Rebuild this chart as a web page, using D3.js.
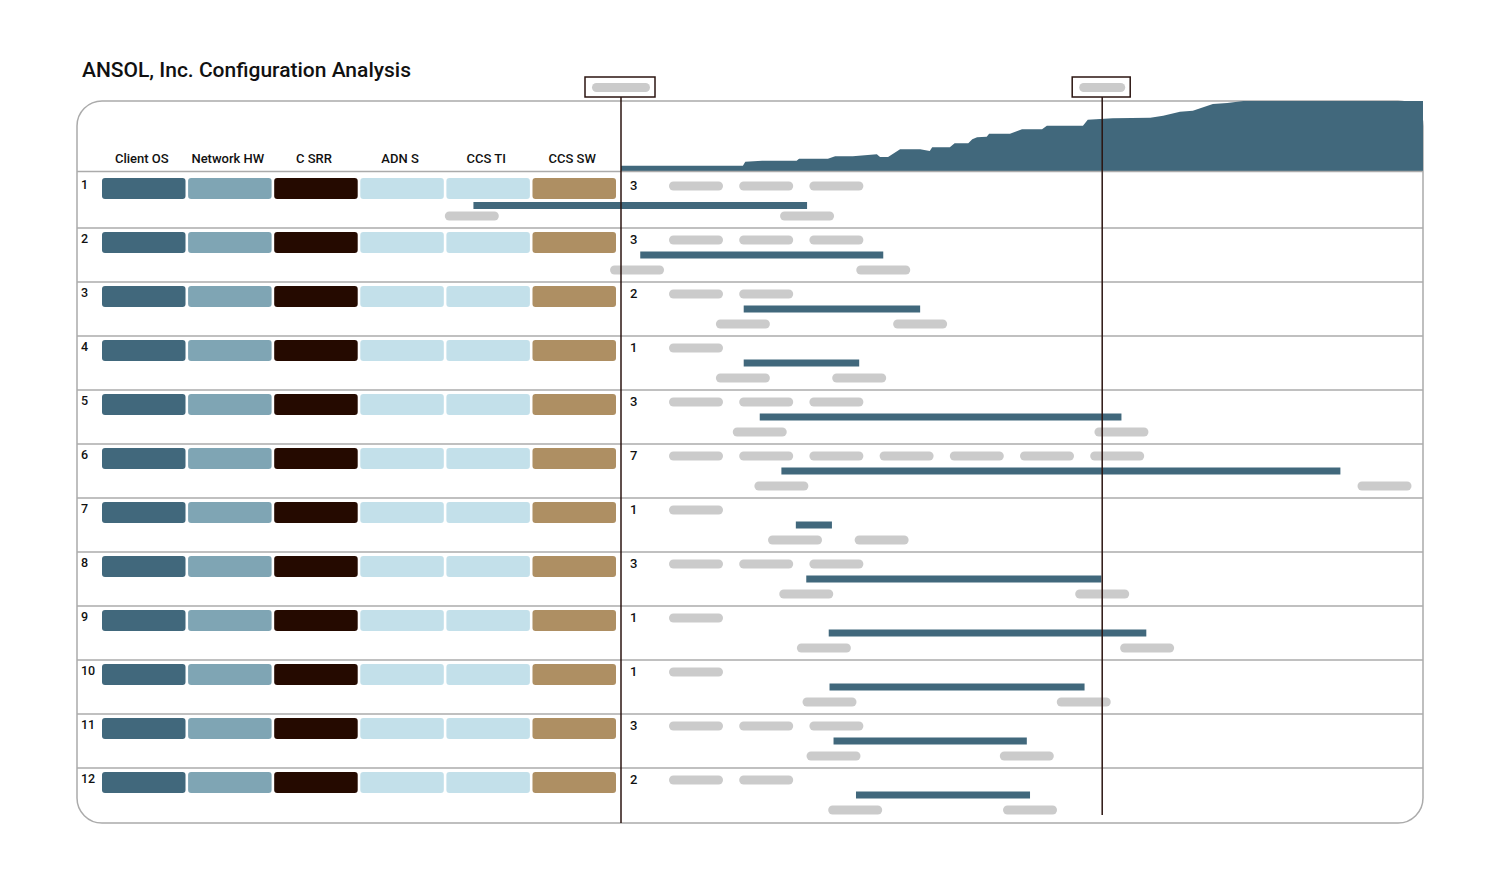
<!DOCTYPE html>
<html>
<head>
<meta charset="utf-8">
<script src="https://cdn.jsdelivr.net/npm/d3@7"></script>
<style>
    body { margin: 0; background: #fff; }
    text { font-family: Roboto, "Noto Sans", sans-serif; fill: #111; }
</style>
</head>
<body>
<div id="chart-area"></div>
<script>

// component columns of the configuration table
var columns = ["Client OS", "Network HW", "C SRR", "ADN S", "CCS TI", "CCS SW"]
var rowLabels = ["1", "2", "3", "4", "5", "6", "7", "8", "9", "10", "11", "12"]

// number of items listed on each row
var itemCounts = [3, 3, 2, 1, 3, 7, 1, 3, 1, 1, 3, 2]

// timeline span of each row (0 = first marker)
var spanStart = [-18.4, 2.4, 15.3, 15.3, 17.3, 20.0, 21.8, 23.1, 25.9, 26.0, 26.5, 29.3]
var spanEnd = [23.2, 32.7, 37.3, 29.7, 62.4, 89.7, 26.3, 59.9, 65.5, 57.8, 50.6, 51.0]
var startLabelAt = [-18.6, 2.0, 15.2, 15.2, 17.3, 20.0, 21.7, 23.1, 25.3, 26.0, 26.5, 29.2]
var endLabelAt = [23.2, 32.7, 37.3, 29.7, 62.4, 95.2, 32.5, 60.0, 65.6, 57.7, 50.6, 51.0]

// vertical reference markers
var markers = [0, 60]

// cumulative coverage curve on top of the timeline
var coverageX = [0, 15.2, 15.5, 17.6, 21.9, 22.2, 25.8, 26.7, 28.9, 31.9, 32.3, 33.3, 34.8, 37.3,
    38.5, 38.8, 41.0, 41.6, 43.3, 43.8, 44.4, 45.6, 45.9, 48.5, 50.0, 52.5, 53.1, 57.6, 58.2,
    61.3, 66.0, 67.6, 69.7, 71.3, 73.8, 75.6, 77.6, 100]
var coverageY = [7.6, 7.6, 13.3, 14.7, 14.7, 17.6, 17.6, 21.0, 21.0, 23.9, 20.0, 20.0, 31.0, 31.0,
    28.6, 33.9, 33.9, 39.6, 39.6, 45.3, 48.1, 49.0, 53.3, 53.3, 59.6, 59.6, 64.7, 64.7, 73.1,
    75.3, 76.1, 79.0, 84.7, 86.1, 95.7, 97.1, 100, 100]

var columnColors = ["#41687c", "#7fa5b4", "#250a00", "#c3e0ea", "#c3e0ea", "#ae8f63"]
var markerLabelWidths = [58, 46]

var width = 1500, height = 874
var frame = { x0: 77, x1: 1423, y0: 101, y1: 823 }
var teal = "#41687c", pill = "#cbcbcb", dark = "#2b1410", rule = "#ababab"

var svg = d3.select("#chart-area").append("svg")
    .attr("width", width)
    .attr("height", height)

var x = d3.scaleLinear().domain([0, 100]).range([621, 1423])
var yArea = d3.scaleLinear().domain([0, 100]).range([171, 101])
var yRow = d3.scaleBand().domain(rowLabels).range([174, 822])
var xCol = d3.scaleBand().domain(columns).range([102, 616]).paddingInner(0.03)

// title
svg.append("text")
    .attr("x", 82)
    .attr("y", 77)
    .style("font-size", "21px")
    .style("font-weight", 500)
    .text("ANSOL, Inc. Configuration Analysis")

// frame
svg.append("rect")
    .attr("x", frame.x0)
    .attr("y", frame.y0)
    .attr("width", frame.x1 - frame.x0)
    .attr("height", frame.y1 - frame.y0)
    .attr("rx", 25)
    .attr("fill", "none")
    .attr("stroke", rule)
    .attr("stroke-width", 1.5)

// coverage area
var area = d3.area()
    .x(function(d) { return x(d[0]) })
    .y0(yArea(0))
    .y1(function(d) { return yArea(d[1]) })

svg.append("path")
    .datum(coverageX.map(function(v, i) { return [v, coverageY[i]] }))
    .attr("d", area)
    .attr("fill", teal)

// header line + row separators
svg.append("line")
    .attr("x1", frame.x0).attr("x2", frame.x1)
    .attr("y1", 171.5).attr("y2", 171.5)
    .attr("stroke", rule).attr("stroke-width", 1.5)

svg.append("g")
    .selectAll("line")
    .data(rowLabels.slice(0, -1))
    .enter().append("line")
    .attr("x1", frame.x0).attr("x2", frame.x1)
    .attr("y1", function(d) { return yRow(d) + yRow.bandwidth() })
    .attr("y2", function(d) { return yRow(d) + yRow.bandwidth() })
    .attr("stroke", rule)
    .attr("stroke-width", 1.5)

// column headers
svg.append("g")
    .selectAll("text")
    .data(columns)
    .enter().append("text")
    .attr("x", function(d) { return xCol(d) + xCol.bandwidth() / 2 - 2 })
    .attr("y", 163)
    .attr("text-anchor", "middle")
    .style("font-size", "13px")
    .style("font-weight", 500)
    .text(function(d) { return d })

var rows = svg.append("g")
    .selectAll("g")
    .data(rowLabels)
    .enter().append("g")
    .attr("transform", function(d) { return "translate(0," + yRow(d) + ")" })

rows.append("text")
    .attr("x", 81)
    .attr("y", 15)
    .style("font-size", "12.5px")
    .style("font-weight", 500)
    .text(function(d) { return d })

rows.selectAll("rect.cell")
    .data(columns)
    .enter().append("rect")
    .attr("class", "cell")
    .attr("x", function(d) { return xCol(d) })
    .attr("y", 4)
    .attr("width", xCol.bandwidth())
    .attr("height", 21)
    .attr("rx", 3)
    .attr("fill", function(d, i) { return columnColors[i] })

// item count + item placeholders
rows.append("text")
    .attr("x", 630)
    .attr("y", 16)
    .style("font-size", "13px")
    .style("font-weight", 500)
    .text(function(d, i) { return itemCounts[i] })

rows.each(function(d, i) {
    var g = d3.select(this)
    g.selectAll("rect.item")
        .data(d3.range(itemCounts[i]))
        .enter().append("rect")
        .attr("class", "item")
        .attr("x", function(k) { return x(0) + 48 + k * 70.2 })
        .attr("y", 7.5)
        .attr("width", 54)
        .attr("height", 9)
        .attr("rx", 4.5)
        .attr("fill", pill)

    g.append("rect")
        .attr("x", x(spanStart[i]))
        .attr("y", i === 0 ? 28 : 23.5)
        .attr("width", x(spanEnd[i]) - x(spanStart[i]))
        .attr("height", 7)
        .attr("fill", teal)

    g.selectAll("rect.lbl")
        .data([startLabelAt[i], endLabelAt[i]])
        .enter().append("rect")
        .attr("class", "lbl")
        .attr("x", function(v) { return x(v) - 27 })
        .attr("y", 37.5)
        .attr("width", 54)
        .attr("height", 9)
        .attr("rx", 4.5)
        .attr("fill", pill)
})

// markers
var bottoms = [frame.y1, 815]
markers.forEach(function(m, i) {
    var cx = x(m), w = markerLabelWidths[i]
    svg.append("line")
        .attr("x1", cx).attr("x2", cx)
        .attr("y1", 97).attr("y2", bottoms[i])
        .attr("stroke", dark)
        .attr("stroke-width", 1.5)
    svg.append("rect")
        .attr("x", cx - w / 2 - 7)
        .attr("y", 77)
        .attr("width", w + 12)
        .attr("height", 20)
        .attr("fill", "#fff")
        .attr("stroke", dark)
        .attr("stroke-width", 1.5)
    svg.append("rect")
        .attr("x", cx - w / 2)
        .attr("y", 83)
        .attr("width", w)
        .attr("height", 9)
        .attr("rx", 4.5)
        .attr("fill", pill)
})

</script>
</body>
</html>
